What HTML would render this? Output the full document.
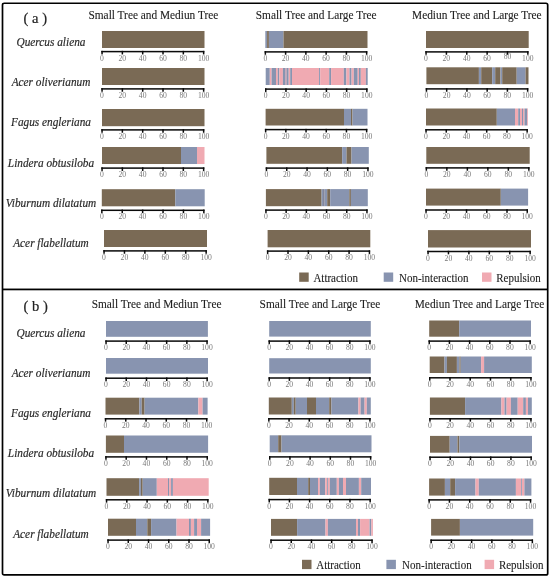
<!DOCTYPE html>
<html><head><meta charset="utf-8"><title>Figure</title>
<style>
html,body{margin:0;padding:0;background:#fff;}
body{width:550px;height:578px;overflow:hidden;}
svg{display:block;}
text{font-family:"Liberation Serif",serif;}
.lab{font-size:11.3px;font-style:italic;text-anchor:middle;fill:#2a2a2a;stroke:#2a2a2a;stroke-width:0.18px;}
.hd{font-size:11.35px;fill:#222;stroke:#222;stroke-width:0.1px;}
.tag{font-size:14.6px;fill:#222;stroke:#222;stroke-width:0.2px;}
.lg{font-size:11px;fill:#222;stroke:#222;stroke-width:0.1px;}
.tk text{font-size:7.6px;text-anchor:middle;fill:#777;}
</style></head><body>
<svg width="550" height="578" viewBox="0 0 550 578">
<rect width="550" height="578" fill="#fff"/>
<rect x="102" y="31" width="102.5" height="17" fill="#7a6a55"/>
<rect x="101.3" y="50.85" width="103" height="1.5" fill="#0a0a0a"/>
<rect x="101.3" y="50.85" width="1.5" height="3.6" fill="#0a0a0a"/>
<rect x="121.62" y="50.85" width="1.5" height="3.6" fill="#0a0a0a"/>
<rect x="141.94" y="50.85" width="1.5" height="3.6" fill="#0a0a0a"/>
<rect x="162.26" y="50.85" width="1.5" height="3.6" fill="#0a0a0a"/>
<rect x="182.58" y="50.85" width="1.5" height="3.6" fill="#0a0a0a"/>
<rect x="202.9" y="50.85" width="1.5" height="3.6" fill="#0a0a0a"/>
<rect x="265.3" y="31" width="1.8" height="17" fill="#8894b0"/>
<rect x="267.1" y="31" width="1.8" height="17" fill="#7a6a55"/>
<rect x="268.9" y="31" width="14.6" height="17" fill="#8894b0"/>
<rect x="283.5" y="31" width="84" height="17" fill="#7a6a55"/>
<rect x="264.6" y="51.15" width="102.7" height="1.5" fill="#0a0a0a"/>
<rect x="264.6" y="51.15" width="1.5" height="3.6" fill="#0a0a0a"/>
<rect x="284.86" y="51.15" width="1.5" height="3.6" fill="#0a0a0a"/>
<rect x="305.12" y="51.15" width="1.5" height="3.6" fill="#0a0a0a"/>
<rect x="325.38" y="51.15" width="1.5" height="3.6" fill="#0a0a0a"/>
<rect x="345.64" y="51.15" width="1.5" height="3.6" fill="#0a0a0a"/>
<rect x="365.9" y="51.15" width="1.5" height="3.6" fill="#0a0a0a"/>
<rect x="426" y="31" width="102.7" height="17" fill="#7a6a55"/>
<rect x="425.3" y="51.15" width="103.2" height="1.5" fill="#0a0a0a"/>
<rect x="425.3" y="51.15" width="1.5" height="3.6" fill="#0a0a0a"/>
<rect x="445.66" y="51.15" width="1.5" height="3.6" fill="#0a0a0a"/>
<rect x="466.02" y="51.15" width="1.5" height="3.6" fill="#0a0a0a"/>
<rect x="486.38" y="51.15" width="1.5" height="3.6" fill="#0a0a0a"/>
<rect x="506.74" y="51.15" width="1.5" height="3.6" fill="#0a0a0a"/>
<rect x="527.1" y="51.15" width="1.5" height="3.6" fill="#0a0a0a"/>
<rect x="102" y="68" width="102.5" height="17" fill="#7a6a55"/>
<rect x="101.3" y="88.15" width="103" height="1.5" fill="#0a0a0a"/>
<rect x="101.3" y="88.15" width="1.5" height="3.6" fill="#0a0a0a"/>
<rect x="121.62" y="88.15" width="1.5" height="3.6" fill="#0a0a0a"/>
<rect x="141.94" y="88.15" width="1.5" height="3.6" fill="#0a0a0a"/>
<rect x="162.26" y="88.15" width="1.5" height="3.6" fill="#0a0a0a"/>
<rect x="182.58" y="88.15" width="1.5" height="3.6" fill="#0a0a0a"/>
<rect x="202.9" y="88.15" width="1.5" height="3.6" fill="#0a0a0a"/>
<rect x="265.7" y="68" width="4.1" height="17" fill="#8894b0"/>
<rect x="269.8" y="68" width="1.8" height="17" fill="#f0aab2"/>
<rect x="271.6" y="68" width="4.4" height="17" fill="#8894b0"/>
<rect x="276" y="68" width="1.8" height="17" fill="#f0aab2"/>
<rect x="277.8" y="68" width="1.5" height="17" fill="#8894b0"/>
<rect x="279.3" y="68" width="3.6" height="17" fill="#f0aab2"/>
<rect x="282.9" y="68" width="2.2" height="17" fill="#8894b0"/>
<rect x="285.1" y="68" width="1.8" height="17" fill="#bda3b6"/>
<rect x="286.9" y="68" width="1.8" height="17" fill="#8894b0"/>
<rect x="288.7" y="68" width="1.5" height="17" fill="#f0aab2"/>
<rect x="290.2" y="68" width="1.8" height="17" fill="#8894b0"/>
<rect x="292" y="68" width="27.1" height="17" fill="#f0aab2"/>
<rect x="319.1" y="68" width="1.1" height="17" fill="#8894b0"/>
<rect x="320.2" y="68" width="9" height="17" fill="#f0aab2"/>
<rect x="329.2" y="68" width="1.9" height="17" fill="#8894b0"/>
<rect x="331.1" y="68" width="12.7" height="17" fill="#f0aab2"/>
<rect x="343.8" y="68" width="2.6" height="17" fill="#8894b0"/>
<rect x="346.4" y="68" width="3.1" height="17" fill="#f0aab2"/>
<rect x="349.5" y="68" width="2.1" height="17" fill="#8894b0"/>
<rect x="351.6" y="68" width="2.2" height="17" fill="#f0aab2"/>
<rect x="353.8" y="68" width="3.9" height="17" fill="#8894b0"/>
<rect x="357.7" y="68" width="1.3" height="17" fill="#f0aab2"/>
<rect x="359" y="68" width="1.8" height="17" fill="#8894b0"/>
<rect x="360.8" y="68" width="5.1" height="17" fill="#f0aab2"/>
<rect x="365.9" y="68" width="1.8" height="17" fill="#8894b0"/>
<rect x="265" y="88.35" width="102.5" height="1.5" fill="#0a0a0a"/>
<rect x="265" y="88.35" width="1.5" height="3.6" fill="#0a0a0a"/>
<rect x="285.22" y="88.35" width="1.5" height="3.6" fill="#0a0a0a"/>
<rect x="305.44" y="88.35" width="1.5" height="3.6" fill="#0a0a0a"/>
<rect x="325.66" y="88.35" width="1.5" height="3.6" fill="#0a0a0a"/>
<rect x="345.88" y="88.35" width="1.5" height="3.6" fill="#0a0a0a"/>
<rect x="366.1" y="88.35" width="1.5" height="3.6" fill="#0a0a0a"/>
<rect x="426.4" y="67.3" width="52.5" height="16.9" fill="#7a6a55"/>
<rect x="478.9" y="67.3" width="2.3" height="16.9" fill="#8894b0"/>
<rect x="481.2" y="67.3" width="11" height="16.9" fill="#7a6a55"/>
<rect x="492.2" y="67.3" width="3" height="16.9" fill="#8894b0"/>
<rect x="495.2" y="67.3" width="5.3" height="16.9" fill="#7a6a55"/>
<rect x="500.5" y="67.3" width="1.7" height="16.9" fill="#8894b0"/>
<rect x="502.2" y="67.3" width="14.5" height="16.9" fill="#7a6a55"/>
<rect x="516.7" y="67.3" width="8.9" height="16.9" fill="#8894b0"/>
<rect x="525.6" y="67.3" width="2.9" height="16.9" fill="#7a6a55"/>
<rect x="425.7" y="88.15" width="102.6" height="1.5" fill="#0a0a0a"/>
<rect x="425.7" y="88.15" width="1.5" height="3.6" fill="#0a0a0a"/>
<rect x="445.94" y="88.15" width="1.5" height="3.6" fill="#0a0a0a"/>
<rect x="466.18" y="88.15" width="1.5" height="3.6" fill="#0a0a0a"/>
<rect x="486.42" y="88.15" width="1.5" height="3.6" fill="#0a0a0a"/>
<rect x="506.66" y="88.15" width="1.5" height="3.6" fill="#0a0a0a"/>
<rect x="526.9" y="88.15" width="1.5" height="3.6" fill="#0a0a0a"/>
<rect x="102" y="109" width="102.5" height="17.2" fill="#7a6a55"/>
<rect x="101.3" y="129.15" width="103" height="1.5" fill="#0a0a0a"/>
<rect x="101.3" y="129.15" width="1.5" height="3.6" fill="#0a0a0a"/>
<rect x="121.62" y="129.15" width="1.5" height="3.6" fill="#0a0a0a"/>
<rect x="141.94" y="129.15" width="1.5" height="3.6" fill="#0a0a0a"/>
<rect x="162.26" y="129.15" width="1.5" height="3.6" fill="#0a0a0a"/>
<rect x="182.58" y="129.15" width="1.5" height="3.6" fill="#0a0a0a"/>
<rect x="202.9" y="129.15" width="1.5" height="3.6" fill="#0a0a0a"/>
<rect x="265.6" y="108.8" width="78.4" height="16.7" fill="#7a6a55"/>
<rect x="344" y="108.8" width="7" height="16.7" fill="#8894b0"/>
<rect x="351" y="108.8" width="1.5" height="16.7" fill="#7a6a55"/>
<rect x="352.5" y="108.8" width="15" height="16.7" fill="#8894b0"/>
<rect x="264.9" y="128.85" width="102.4" height="1.5" fill="#0a0a0a"/>
<rect x="264.9" y="128.85" width="1.5" height="3.6" fill="#0a0a0a"/>
<rect x="285.1" y="128.85" width="1.5" height="3.6" fill="#0a0a0a"/>
<rect x="305.3" y="128.85" width="1.5" height="3.6" fill="#0a0a0a"/>
<rect x="325.5" y="128.85" width="1.5" height="3.6" fill="#0a0a0a"/>
<rect x="345.7" y="128.85" width="1.5" height="3.6" fill="#0a0a0a"/>
<rect x="365.9" y="128.85" width="1.5" height="3.6" fill="#0a0a0a"/>
<rect x="426" y="108.5" width="70.8" height="17" fill="#7a6a55"/>
<rect x="496.8" y="108.5" width="18.2" height="17" fill="#8894b0"/>
<rect x="515" y="108.5" width="3.2" height="17" fill="#f0aab2"/>
<rect x="518.2" y="108.5" width="1.8" height="17" fill="#8894b0"/>
<rect x="520" y="108.5" width="2" height="17" fill="#f0aab2"/>
<rect x="522" y="108.5" width="1" height="17" fill="#8894b0"/>
<rect x="523" y="108.5" width="1.5" height="17" fill="#f0aab2"/>
<rect x="524.5" y="108.5" width="2.7" height="17" fill="#8894b0"/>
<rect x="527.2" y="108.5" width="0.8" height="17" fill="#f0aab2"/>
<rect x="425.3" y="129.05" width="102.5" height="1.5" fill="#0a0a0a"/>
<rect x="425.3" y="129.05" width="1.5" height="3.6" fill="#0a0a0a"/>
<rect x="445.52" y="129.05" width="1.5" height="3.6" fill="#0a0a0a"/>
<rect x="465.74" y="129.05" width="1.5" height="3.6" fill="#0a0a0a"/>
<rect x="485.96" y="129.05" width="1.5" height="3.6" fill="#0a0a0a"/>
<rect x="506.18" y="129.05" width="1.5" height="3.6" fill="#0a0a0a"/>
<rect x="526.4" y="129.05" width="1.5" height="3.6" fill="#0a0a0a"/>
<rect x="102" y="147" width="79" height="17" fill="#7a6a55"/>
<rect x="181" y="147" width="16" height="17" fill="#8894b0"/>
<rect x="197" y="147" width="7.5" height="17" fill="#f0aab2"/>
<rect x="101.3" y="167.35" width="103" height="1.5" fill="#0a0a0a"/>
<rect x="101.3" y="167.35" width="1.5" height="3.6" fill="#0a0a0a"/>
<rect x="121.62" y="167.35" width="1.5" height="3.6" fill="#0a0a0a"/>
<rect x="141.94" y="167.35" width="1.5" height="3.6" fill="#0a0a0a"/>
<rect x="162.26" y="167.35" width="1.5" height="3.6" fill="#0a0a0a"/>
<rect x="182.58" y="167.35" width="1.5" height="3.6" fill="#0a0a0a"/>
<rect x="202.9" y="167.35" width="1.5" height="3.6" fill="#0a0a0a"/>
<rect x="266.4" y="147" width="75.8" height="16.8" fill="#7a6a55"/>
<rect x="342.2" y="147" width="4.3" height="16.8" fill="#8894b0"/>
<rect x="346.5" y="147" width="5" height="16.8" fill="#7a6a55"/>
<rect x="351.5" y="147" width="17.3" height="16.8" fill="#8894b0"/>
<rect x="265.7" y="167.35" width="102.9" height="1.5" fill="#0a0a0a"/>
<rect x="265.7" y="167.35" width="1.5" height="3.6" fill="#0a0a0a"/>
<rect x="286" y="167.35" width="1.5" height="3.6" fill="#0a0a0a"/>
<rect x="306.3" y="167.35" width="1.5" height="3.6" fill="#0a0a0a"/>
<rect x="326.6" y="167.35" width="1.5" height="3.6" fill="#0a0a0a"/>
<rect x="346.9" y="167.35" width="1.5" height="3.6" fill="#0a0a0a"/>
<rect x="367.2" y="167.35" width="1.5" height="3.6" fill="#0a0a0a"/>
<rect x="426.3" y="147" width="103.4" height="16.8" fill="#7a6a55"/>
<rect x="425.6" y="167.15" width="103.9" height="1.5" fill="#0a0a0a"/>
<rect x="425.6" y="167.15" width="1.5" height="3.6" fill="#0a0a0a"/>
<rect x="446.1" y="167.15" width="1.5" height="3.6" fill="#0a0a0a"/>
<rect x="466.6" y="167.15" width="1.5" height="3.6" fill="#0a0a0a"/>
<rect x="487.1" y="167.15" width="1.5" height="3.6" fill="#0a0a0a"/>
<rect x="507.6" y="167.15" width="1.5" height="3.6" fill="#0a0a0a"/>
<rect x="528.1" y="167.15" width="1.5" height="3.6" fill="#0a0a0a"/>
<rect x="101.8" y="189.2" width="73.5" height="17.1" fill="#7a6a55"/>
<rect x="175.3" y="189.2" width="29.4" height="17.1" fill="#8894b0"/>
<rect x="101.1" y="209.55" width="103.4" height="1.5" fill="#0a0a0a"/>
<rect x="101.1" y="209.55" width="1.5" height="3.6" fill="#0a0a0a"/>
<rect x="121.5" y="209.55" width="1.5" height="3.6" fill="#0a0a0a"/>
<rect x="141.9" y="209.55" width="1.5" height="3.6" fill="#0a0a0a"/>
<rect x="162.3" y="209.55" width="1.5" height="3.6" fill="#0a0a0a"/>
<rect x="182.7" y="209.55" width="1.5" height="3.6" fill="#0a0a0a"/>
<rect x="203.1" y="209.55" width="1.5" height="3.6" fill="#0a0a0a"/>
<rect x="265.9" y="189.1" width="55.7" height="17.1" fill="#7a6a55"/>
<rect x="321.6" y="189.1" width="1.4" height="17.1" fill="#8894b0"/>
<rect x="323" y="189.1" width="1.7" height="17.1" fill="#84869a"/>
<rect x="324.7" y="189.1" width="2.5" height="17.1" fill="#8894b0"/>
<rect x="327.2" y="189.1" width="3" height="17.1" fill="#7a6a55"/>
<rect x="330.2" y="189.1" width="19.1" height="17.1" fill="#8894b0"/>
<rect x="349.3" y="189.1" width="1.6" height="17.1" fill="#7a6a55"/>
<rect x="350.9" y="189.1" width="16.9" height="17.1" fill="#8894b0"/>
<rect x="265.2" y="209.35" width="102.4" height="1.5" fill="#0a0a0a"/>
<rect x="265.2" y="209.35" width="1.5" height="3.6" fill="#0a0a0a"/>
<rect x="285.4" y="209.35" width="1.5" height="3.6" fill="#0a0a0a"/>
<rect x="305.6" y="209.35" width="1.5" height="3.6" fill="#0a0a0a"/>
<rect x="325.8" y="209.35" width="1.5" height="3.6" fill="#0a0a0a"/>
<rect x="346" y="209.35" width="1.5" height="3.6" fill="#0a0a0a"/>
<rect x="366.2" y="209.35" width="1.5" height="3.6" fill="#0a0a0a"/>
<rect x="426" y="188.6" width="74.8" height="17" fill="#7a6a55"/>
<rect x="500.8" y="188.6" width="27.3" height="17" fill="#8894b0"/>
<rect x="425.3" y="209.25" width="102.6" height="1.5" fill="#0a0a0a"/>
<rect x="425.3" y="209.25" width="1.5" height="3.6" fill="#0a0a0a"/>
<rect x="445.54" y="209.25" width="1.5" height="3.6" fill="#0a0a0a"/>
<rect x="465.78" y="209.25" width="1.5" height="3.6" fill="#0a0a0a"/>
<rect x="486.02" y="209.25" width="1.5" height="3.6" fill="#0a0a0a"/>
<rect x="506.26" y="209.25" width="1.5" height="3.6" fill="#0a0a0a"/>
<rect x="526.5" y="209.25" width="1.5" height="3.6" fill="#0a0a0a"/>
<rect x="104" y="230" width="103" height="17" fill="#7a6a55"/>
<rect x="103.3" y="250.15" width="103.5" height="1.5" fill="#0a0a0a"/>
<rect x="103.3" y="250.15" width="1.5" height="3.6" fill="#0a0a0a"/>
<rect x="123.72" y="250.15" width="1.5" height="3.6" fill="#0a0a0a"/>
<rect x="144.14" y="250.15" width="1.5" height="3.6" fill="#0a0a0a"/>
<rect x="164.56" y="250.15" width="1.5" height="3.6" fill="#0a0a0a"/>
<rect x="184.98" y="250.15" width="1.5" height="3.6" fill="#0a0a0a"/>
<rect x="205.4" y="250.15" width="1.5" height="3.6" fill="#0a0a0a"/>
<rect x="267.6" y="230" width="102.7" height="17.3" fill="#7a6a55"/>
<rect x="266.9" y="250.35" width="103.2" height="1.5" fill="#0a0a0a"/>
<rect x="266.9" y="250.35" width="1.5" height="3.6" fill="#0a0a0a"/>
<rect x="287.26" y="250.35" width="1.5" height="3.6" fill="#0a0a0a"/>
<rect x="307.62" y="250.35" width="1.5" height="3.6" fill="#0a0a0a"/>
<rect x="327.98" y="250.35" width="1.5" height="3.6" fill="#0a0a0a"/>
<rect x="348.34" y="250.35" width="1.5" height="3.6" fill="#0a0a0a"/>
<rect x="368.7" y="250.35" width="1.5" height="3.6" fill="#0a0a0a"/>
<rect x="428" y="230.1" width="103" height="17.4" fill="#7a6a55"/>
<rect x="427.3" y="250.75" width="103.5" height="1.5" fill="#0a0a0a"/>
<rect x="427.3" y="250.75" width="1.5" height="3.6" fill="#0a0a0a"/>
<rect x="447.72" y="250.75" width="1.5" height="3.6" fill="#0a0a0a"/>
<rect x="468.14" y="250.75" width="1.5" height="3.6" fill="#0a0a0a"/>
<rect x="488.56" y="250.75" width="1.5" height="3.6" fill="#0a0a0a"/>
<rect x="508.98" y="250.75" width="1.5" height="3.6" fill="#0a0a0a"/>
<rect x="529.4" y="250.75" width="1.5" height="3.6" fill="#0a0a0a"/>
<rect x="299.2" y="272.5" width="9.5" height="9.3" fill="#7a6a55"/>
<rect x="383.7" y="272.5" width="9.5" height="9.3" fill="#8894b0"/>
<rect x="482" y="272.5" width="9.5" height="9.3" fill="#f0aab2"/>
<rect x="106" y="321" width="101.9" height="15.8" fill="#8894b0"/>
<rect x="105.3" y="340.35" width="102.4" height="1.5" fill="#0a0a0a"/>
<rect x="105.3" y="340.35" width="1.5" height="3.6" fill="#0a0a0a"/>
<rect x="125.5" y="340.35" width="1.5" height="3.6" fill="#0a0a0a"/>
<rect x="145.7" y="340.35" width="1.5" height="3.6" fill="#0a0a0a"/>
<rect x="165.9" y="340.35" width="1.5" height="3.6" fill="#0a0a0a"/>
<rect x="186.1" y="340.35" width="1.5" height="3.6" fill="#0a0a0a"/>
<rect x="206.3" y="340.35" width="1.5" height="3.6" fill="#0a0a0a"/>
<rect x="269.2" y="321" width="101.6" height="15.6" fill="#8894b0"/>
<rect x="268.5" y="340.35" width="102.1" height="1.5" fill="#0a0a0a"/>
<rect x="268.5" y="340.35" width="1.5" height="3.6" fill="#0a0a0a"/>
<rect x="288.64" y="340.35" width="1.5" height="3.6" fill="#0a0a0a"/>
<rect x="308.78" y="340.35" width="1.5" height="3.6" fill="#0a0a0a"/>
<rect x="328.92" y="340.35" width="1.5" height="3.6" fill="#0a0a0a"/>
<rect x="349.06" y="340.35" width="1.5" height="3.6" fill="#0a0a0a"/>
<rect x="369.2" y="340.35" width="1.5" height="3.6" fill="#0a0a0a"/>
<rect x="429.2" y="320.5" width="30" height="16.2" fill="#7a6a55"/>
<rect x="459.2" y="320.5" width="71.8" height="16.2" fill="#8894b0"/>
<rect x="428.5" y="340.35" width="102.3" height="1.5" fill="#0a0a0a"/>
<rect x="428.5" y="340.35" width="1.5" height="3.6" fill="#0a0a0a"/>
<rect x="448.68" y="340.35" width="1.5" height="3.6" fill="#0a0a0a"/>
<rect x="468.86" y="340.35" width="1.5" height="3.6" fill="#0a0a0a"/>
<rect x="489.04" y="340.35" width="1.5" height="3.6" fill="#0a0a0a"/>
<rect x="509.22" y="340.35" width="1.5" height="3.6" fill="#0a0a0a"/>
<rect x="529.4" y="340.35" width="1.5" height="3.6" fill="#0a0a0a"/>
<rect x="106" y="358" width="102" height="15.7" fill="#8894b0"/>
<rect x="105.3" y="377.45" width="102.5" height="1.5" fill="#0a0a0a"/>
<rect x="105.3" y="377.45" width="1.5" height="3.6" fill="#0a0a0a"/>
<rect x="125.52" y="377.45" width="1.5" height="3.6" fill="#0a0a0a"/>
<rect x="145.74" y="377.45" width="1.5" height="3.6" fill="#0a0a0a"/>
<rect x="165.96" y="377.45" width="1.5" height="3.6" fill="#0a0a0a"/>
<rect x="186.18" y="377.45" width="1.5" height="3.6" fill="#0a0a0a"/>
<rect x="206.4" y="377.45" width="1.5" height="3.6" fill="#0a0a0a"/>
<rect x="269.2" y="358.2" width="101.6" height="15.3" fill="#8894b0"/>
<rect x="268.5" y="377.25" width="102.1" height="1.5" fill="#0a0a0a"/>
<rect x="268.5" y="377.25" width="1.5" height="3.6" fill="#0a0a0a"/>
<rect x="288.64" y="377.25" width="1.5" height="3.6" fill="#0a0a0a"/>
<rect x="308.78" y="377.25" width="1.5" height="3.6" fill="#0a0a0a"/>
<rect x="328.92" y="377.25" width="1.5" height="3.6" fill="#0a0a0a"/>
<rect x="349.06" y="377.25" width="1.5" height="3.6" fill="#0a0a0a"/>
<rect x="369.2" y="377.25" width="1.5" height="3.6" fill="#0a0a0a"/>
<rect x="429.7" y="356.5" width="14.8" height="16.5" fill="#7a6a55"/>
<rect x="444.5" y="356.5" width="2.4" height="16.5" fill="#8894b0"/>
<rect x="446.9" y="356.5" width="10" height="16.5" fill="#7a6a55"/>
<rect x="456.9" y="356.5" width="2.6" height="16.5" fill="#8894b0"/>
<rect x="459.5" y="356.5" width="1.2" height="16.5" fill="#7a6a55"/>
<rect x="460.7" y="356.5" width="20.4" height="16.5" fill="#8894b0"/>
<rect x="481.1" y="356.5" width="3" height="16.5" fill="#f0aab2"/>
<rect x="484.1" y="356.5" width="47.7" height="16.5" fill="#8894b0"/>
<rect x="429" y="377.05" width="102.6" height="1.5" fill="#0a0a0a"/>
<rect x="429" y="377.05" width="1.5" height="3.6" fill="#0a0a0a"/>
<rect x="449.24" y="377.05" width="1.5" height="3.6" fill="#0a0a0a"/>
<rect x="469.48" y="377.05" width="1.5" height="3.6" fill="#0a0a0a"/>
<rect x="489.72" y="377.05" width="1.5" height="3.6" fill="#0a0a0a"/>
<rect x="509.96" y="377.05" width="1.5" height="3.6" fill="#0a0a0a"/>
<rect x="530.2" y="377.05" width="1.5" height="3.6" fill="#0a0a0a"/>
<rect x="105.5" y="397.7" width="33.9" height="16.9" fill="#7a6a55"/>
<rect x="139.4" y="397.7" width="2.3" height="16.9" fill="#8894b0"/>
<rect x="141.7" y="397.7" width="2.9" height="16.9" fill="#7a6a55"/>
<rect x="144.6" y="397.7" width="53.7" height="16.9" fill="#8894b0"/>
<rect x="198.3" y="397.7" width="4.3" height="16.9" fill="#f0aab2"/>
<rect x="202.6" y="397.7" width="5" height="16.9" fill="#8894b0"/>
<rect x="104.8" y="418.05" width="102.6" height="1.5" fill="#0a0a0a"/>
<rect x="104.8" y="418.05" width="1.5" height="3.6" fill="#0a0a0a"/>
<rect x="125.04" y="418.05" width="1.5" height="3.6" fill="#0a0a0a"/>
<rect x="145.28" y="418.05" width="1.5" height="3.6" fill="#0a0a0a"/>
<rect x="165.52" y="418.05" width="1.5" height="3.6" fill="#0a0a0a"/>
<rect x="185.76" y="418.05" width="1.5" height="3.6" fill="#0a0a0a"/>
<rect x="206" y="418.05" width="1.5" height="3.6" fill="#0a0a0a"/>
<rect x="268.8" y="397.5" width="23" height="17" fill="#7a6a55"/>
<rect x="291.8" y="397.5" width="2" height="17" fill="#8894b0"/>
<rect x="293.8" y="397.5" width="1.9" height="17" fill="#7a6a55"/>
<rect x="295.7" y="397.5" width="11.3" height="17" fill="#8894b0"/>
<rect x="307" y="397.5" width="9" height="17" fill="#7a6a55"/>
<rect x="316" y="397.5" width="13.2" height="17" fill="#8894b0"/>
<rect x="329.2" y="397.5" width="2.2" height="17" fill="#7a6a55"/>
<rect x="331.4" y="397.5" width="27" height="17" fill="#8894b0"/>
<rect x="358.4" y="397.5" width="2.2" height="17" fill="#f0aab2"/>
<rect x="360.6" y="397.5" width="4" height="17" fill="#8894b0"/>
<rect x="364.6" y="397.5" width="2.2" height="17" fill="#f0aab2"/>
<rect x="366.8" y="397.5" width="4" height="17" fill="#8894b0"/>
<rect x="268.1" y="418.05" width="102.5" height="1.5" fill="#0a0a0a"/>
<rect x="268.1" y="418.05" width="1.5" height="3.6" fill="#0a0a0a"/>
<rect x="288.32" y="418.05" width="1.5" height="3.6" fill="#0a0a0a"/>
<rect x="308.54" y="418.05" width="1.5" height="3.6" fill="#0a0a0a"/>
<rect x="328.76" y="418.05" width="1.5" height="3.6" fill="#0a0a0a"/>
<rect x="348.98" y="418.05" width="1.5" height="3.6" fill="#0a0a0a"/>
<rect x="369.2" y="418.05" width="1.5" height="3.6" fill="#0a0a0a"/>
<rect x="429.9" y="397.5" width="35.2" height="17.3" fill="#7a6a55"/>
<rect x="465.1" y="397.5" width="36.3" height="17.3" fill="#8894b0"/>
<rect x="501.4" y="397.5" width="3.1" height="17.3" fill="#f0aab2"/>
<rect x="504.5" y="397.5" width="2.1" height="17.3" fill="#8894b0"/>
<rect x="506.6" y="397.5" width="4.3" height="17.3" fill="#f0aab2"/>
<rect x="510.9" y="397.5" width="6.8" height="17.3" fill="#8894b0"/>
<rect x="517.7" y="397.5" width="5.5" height="17.3" fill="#f0aab2"/>
<rect x="523.2" y="397.5" width="2.7" height="17.3" fill="#8894b0"/>
<rect x="525.9" y="397.5" width="2.1" height="17.3" fill="#f0aab2"/>
<rect x="528" y="397.5" width="3.8" height="17.3" fill="#8894b0"/>
<rect x="429.2" y="418.05" width="102.4" height="1.5" fill="#0a0a0a"/>
<rect x="429.2" y="418.05" width="1.5" height="3.6" fill="#0a0a0a"/>
<rect x="449.4" y="418.05" width="1.5" height="3.6" fill="#0a0a0a"/>
<rect x="469.6" y="418.05" width="1.5" height="3.6" fill="#0a0a0a"/>
<rect x="489.8" y="418.05" width="1.5" height="3.6" fill="#0a0a0a"/>
<rect x="510" y="418.05" width="1.5" height="3.6" fill="#0a0a0a"/>
<rect x="530.2" y="418.05" width="1.5" height="3.6" fill="#0a0a0a"/>
<rect x="105.9" y="435.5" width="18.1" height="17.3" fill="#7a6a55"/>
<rect x="124" y="435.5" width="84.1" height="17.3" fill="#8894b0"/>
<rect x="105.2" y="456.15" width="102.7" height="1.5" fill="#0a0a0a"/>
<rect x="105.2" y="456.15" width="1.5" height="3.6" fill="#0a0a0a"/>
<rect x="125.46" y="456.15" width="1.5" height="3.6" fill="#0a0a0a"/>
<rect x="145.72" y="456.15" width="1.5" height="3.6" fill="#0a0a0a"/>
<rect x="165.98" y="456.15" width="1.5" height="3.6" fill="#0a0a0a"/>
<rect x="186.24" y="456.15" width="1.5" height="3.6" fill="#0a0a0a"/>
<rect x="206.5" y="456.15" width="1.5" height="3.6" fill="#0a0a0a"/>
<rect x="269.7" y="435.3" width="8.5" height="17" fill="#8894b0"/>
<rect x="278.2" y="435.3" width="3.3" height="17" fill="#7a6a55"/>
<rect x="281.5" y="435.3" width="90" height="17" fill="#8894b0"/>
<rect x="269" y="456.15" width="102.3" height="1.5" fill="#0a0a0a"/>
<rect x="269" y="456.15" width="1.5" height="3.6" fill="#0a0a0a"/>
<rect x="289.18" y="456.15" width="1.5" height="3.6" fill="#0a0a0a"/>
<rect x="309.36" y="456.15" width="1.5" height="3.6" fill="#0a0a0a"/>
<rect x="329.54" y="456.15" width="1.5" height="3.6" fill="#0a0a0a"/>
<rect x="349.72" y="456.15" width="1.5" height="3.6" fill="#0a0a0a"/>
<rect x="369.9" y="456.15" width="1.5" height="3.6" fill="#0a0a0a"/>
<rect x="430" y="435.9" width="19.7" height="16.8" fill="#7a6a55"/>
<rect x="449.7" y="435.9" width="7.8" height="16.8" fill="#8894b0"/>
<rect x="457.5" y="435.9" width="1.8" height="16.8" fill="#7a6a55"/>
<rect x="459.3" y="435.9" width="72.7" height="16.8" fill="#8894b0"/>
<rect x="429.3" y="456.45" width="102.5" height="1.5" fill="#0a0a0a"/>
<rect x="429.3" y="456.45" width="1.5" height="3.6" fill="#0a0a0a"/>
<rect x="449.52" y="456.45" width="1.5" height="3.6" fill="#0a0a0a"/>
<rect x="469.74" y="456.45" width="1.5" height="3.6" fill="#0a0a0a"/>
<rect x="489.96" y="456.45" width="1.5" height="3.6" fill="#0a0a0a"/>
<rect x="510.18" y="456.45" width="1.5" height="3.6" fill="#0a0a0a"/>
<rect x="530.4" y="456.45" width="1.5" height="3.6" fill="#0a0a0a"/>
<rect x="106.5" y="478.2" width="32.6" height="17.6" fill="#7a6a55"/>
<rect x="139.1" y="478.2" width="1.8" height="17.6" fill="#8894b0"/>
<rect x="140.9" y="478.2" width="1.8" height="17.6" fill="#7a6a55"/>
<rect x="142.7" y="478.2" width="14.1" height="17.6" fill="#8894b0"/>
<rect x="156.8" y="478.2" width="11.2" height="17.6" fill="#f0aab2"/>
<rect x="168" y="478.2" width="1.1" height="17.6" fill="#8894b0"/>
<rect x="169.1" y="478.2" width="2" height="17.6" fill="#f0aab2"/>
<rect x="171.1" y="478.2" width="1.8" height="17.6" fill="#8894b0"/>
<rect x="172.9" y="478.2" width="35.8" height="17.6" fill="#f0aab2"/>
<rect x="105.8" y="499.05" width="102.7" height="1.5" fill="#0a0a0a"/>
<rect x="105.8" y="499.05" width="1.5" height="3.6" fill="#0a0a0a"/>
<rect x="126.06" y="499.05" width="1.5" height="3.6" fill="#0a0a0a"/>
<rect x="146.32" y="499.05" width="1.5" height="3.6" fill="#0a0a0a"/>
<rect x="166.58" y="499.05" width="1.5" height="3.6" fill="#0a0a0a"/>
<rect x="186.84" y="499.05" width="1.5" height="3.6" fill="#0a0a0a"/>
<rect x="207.1" y="499.05" width="1.5" height="3.6" fill="#0a0a0a"/>
<rect x="269.2" y="477.8" width="27.8" height="17.2" fill="#7a6a55"/>
<rect x="297" y="477.8" width="11.2" height="17.2" fill="#8894b0"/>
<rect x="308.2" y="477.8" width="1.8" height="17.2" fill="#7a6a55"/>
<rect x="310" y="477.8" width="8" height="17.2" fill="#8894b0"/>
<rect x="318" y="477.8" width="1.8" height="17.2" fill="#f0aab2"/>
<rect x="319.8" y="477.8" width="5.4" height="17.2" fill="#8894b0"/>
<rect x="325.2" y="477.8" width="2" height="17.2" fill="#f0aab2"/>
<rect x="327.2" y="477.8" width="0.8" height="17.2" fill="#8894b0"/>
<rect x="328" y="477.8" width="1.8" height="17.2" fill="#f0aab2"/>
<rect x="329.8" y="477.8" width="7" height="17.2" fill="#8894b0"/>
<rect x="336.8" y="477.8" width="2.1" height="17.2" fill="#f0aab2"/>
<rect x="338.9" y="477.8" width="4.1" height="17.2" fill="#8894b0"/>
<rect x="343" y="477.8" width="3" height="17.2" fill="#f0aab2"/>
<rect x="346" y="477.8" width="12.9" height="17.2" fill="#8894b0"/>
<rect x="358.9" y="477.8" width="2.3" height="17.2" fill="#f0aab2"/>
<rect x="361.2" y="477.8" width="9.8" height="17.2" fill="#8894b0"/>
<rect x="268.5" y="498.85" width="102.3" height="1.5" fill="#0a0a0a"/>
<rect x="268.5" y="498.85" width="1.5" height="3.6" fill="#0a0a0a"/>
<rect x="288.68" y="498.85" width="1.5" height="3.6" fill="#0a0a0a"/>
<rect x="308.86" y="498.85" width="1.5" height="3.6" fill="#0a0a0a"/>
<rect x="329.04" y="498.85" width="1.5" height="3.6" fill="#0a0a0a"/>
<rect x="349.22" y="498.85" width="1.5" height="3.6" fill="#0a0a0a"/>
<rect x="369.4" y="498.85" width="1.5" height="3.6" fill="#0a0a0a"/>
<rect x="429.1" y="478.5" width="15.8" height="17.1" fill="#7a6a55"/>
<rect x="444.9" y="478.5" width="5.3" height="17.1" fill="#8894b0"/>
<rect x="450.2" y="478.5" width="4.9" height="17.1" fill="#7a6a55"/>
<rect x="455.1" y="478.5" width="20.4" height="17.1" fill="#8894b0"/>
<rect x="475.5" y="478.5" width="3.3" height="17.1" fill="#f0aab2"/>
<rect x="478.8" y="478.5" width="37.1" height="17.1" fill="#8894b0"/>
<rect x="515.9" y="478.5" width="5.3" height="17.1" fill="#f0aab2"/>
<rect x="521.2" y="478.5" width="0.8" height="17.1" fill="#8894b0"/>
<rect x="522" y="478.5" width="2.4" height="17.1" fill="#f0aab2"/>
<rect x="524.4" y="478.5" width="7" height="17.1" fill="#8894b0"/>
<rect x="428.4" y="499.15" width="102.8" height="1.5" fill="#0a0a0a"/>
<rect x="428.4" y="499.15" width="1.5" height="3.6" fill="#0a0a0a"/>
<rect x="448.68" y="499.15" width="1.5" height="3.6" fill="#0a0a0a"/>
<rect x="468.96" y="499.15" width="1.5" height="3.6" fill="#0a0a0a"/>
<rect x="489.24" y="499.15" width="1.5" height="3.6" fill="#0a0a0a"/>
<rect x="509.52" y="499.15" width="1.5" height="3.6" fill="#0a0a0a"/>
<rect x="529.8" y="499.15" width="1.5" height="3.6" fill="#0a0a0a"/>
<rect x="108" y="518.7" width="28" height="17.1" fill="#7a6a55"/>
<rect x="136" y="518.7" width="11.3" height="17.1" fill="#8894b0"/>
<rect x="147.3" y="518.7" width="3.8" height="17.1" fill="#7a6a55"/>
<rect x="151.1" y="518.7" width="25.4" height="17.1" fill="#8894b0"/>
<rect x="176.5" y="518.7" width="12.5" height="17.1" fill="#f0aab2"/>
<rect x="189" y="518.7" width="1.9" height="17.1" fill="#8894b0"/>
<rect x="190.9" y="518.7" width="3.2" height="17.1" fill="#f0aab2"/>
<rect x="194.1" y="518.7" width="2.9" height="17.1" fill="#8894b0"/>
<rect x="197" y="518.7" width="4.1" height="17.1" fill="#f0aab2"/>
<rect x="201.1" y="518.7" width="9" height="17.1" fill="#8894b0"/>
<rect x="107.3" y="539.35" width="102.6" height="1.5" fill="#0a0a0a"/>
<rect x="107.3" y="539.35" width="1.5" height="3.6" fill="#0a0a0a"/>
<rect x="127.54" y="539.35" width="1.5" height="3.6" fill="#0a0a0a"/>
<rect x="147.78" y="539.35" width="1.5" height="3.6" fill="#0a0a0a"/>
<rect x="168.02" y="539.35" width="1.5" height="3.6" fill="#0a0a0a"/>
<rect x="188.26" y="539.35" width="1.5" height="3.6" fill="#0a0a0a"/>
<rect x="208.5" y="539.35" width="1.5" height="3.6" fill="#0a0a0a"/>
<rect x="271" y="518.9" width="26.1" height="16.9" fill="#7a6a55"/>
<rect x="297.1" y="518.9" width="28.4" height="16.9" fill="#8894b0"/>
<rect x="325.5" y="518.9" width="2.4" height="16.9" fill="#f0aab2"/>
<rect x="327.9" y="518.9" width="28.1" height="16.9" fill="#8894b0"/>
<rect x="356" y="518.9" width="2" height="16.9" fill="#f0aab2"/>
<rect x="358" y="518.9" width="2.1" height="16.9" fill="#8894b0"/>
<rect x="360.1" y="518.9" width="9.5" height="16.9" fill="#f0aab2"/>
<rect x="369.6" y="518.9" width="1.7" height="16.9" fill="#8894b0"/>
<rect x="371.3" y="518.9" width="1.6" height="16.9" fill="#f0aab2"/>
<rect x="270.3" y="539.45" width="102.4" height="1.5" fill="#0a0a0a"/>
<rect x="270.3" y="539.45" width="1.5" height="3.6" fill="#0a0a0a"/>
<rect x="290.5" y="539.45" width="1.5" height="3.6" fill="#0a0a0a"/>
<rect x="310.7" y="539.45" width="1.5" height="3.6" fill="#0a0a0a"/>
<rect x="330.9" y="539.45" width="1.5" height="3.6" fill="#0a0a0a"/>
<rect x="351.1" y="539.45" width="1.5" height="3.6" fill="#0a0a0a"/>
<rect x="371.3" y="539.45" width="1.5" height="3.6" fill="#0a0a0a"/>
<rect x="431.1" y="518.9" width="28.8" height="16.7" fill="#7a6a55"/>
<rect x="459.9" y="518.9" width="73.3" height="16.7" fill="#8894b0"/>
<rect x="430.4" y="539.45" width="102.6" height="1.5" fill="#0a0a0a"/>
<rect x="430.4" y="539.45" width="1.5" height="3.6" fill="#0a0a0a"/>
<rect x="450.64" y="539.45" width="1.5" height="3.6" fill="#0a0a0a"/>
<rect x="470.88" y="539.45" width="1.5" height="3.6" fill="#0a0a0a"/>
<rect x="491.12" y="539.45" width="1.5" height="3.6" fill="#0a0a0a"/>
<rect x="511.36" y="539.45" width="1.5" height="3.6" fill="#0a0a0a"/>
<rect x="531.6" y="539.45" width="1.5" height="3.6" fill="#0a0a0a"/>
<rect x="302" y="559.8" width="9.5" height="9.3" fill="#7a6a55"/>
<rect x="386.4" y="559.8" width="9.5" height="9.3" fill="#8894b0"/>
<rect x="484.6" y="559.8" width="9.5" height="9.3" fill="#f0aab2"/>
<g class="tk"><text x="102" y="60.6">0</text><text x="122.32" y="60.6">20</text><text x="142.64" y="60.6">40</text><text x="162.96" y="60.6">60</text><text x="183.28" y="60.6">80</text><text x="203.6" y="60.6">100</text><text x="265.3" y="60.9">0</text><text x="285.56" y="60.9">20</text><text x="305.82" y="60.9">40</text><text x="326.08" y="60.9">60</text><text x="346.34" y="60.9">80</text><text x="366.6" y="60.9">100</text><text x="426" y="60.9">0</text><text x="446.36" y="60.9">20</text><text x="466.72" y="60.9">40</text><text x="487.08" y="60.9">60</text><text x="507.44" y="58.9">80</text><text x="527.8" y="60.9">100</text><text x="102" y="97.9">0</text><text x="122.32" y="97.9">20</text><text x="142.64" y="97.9">40</text><text x="162.96" y="97.9">60</text><text x="183.28" y="97.9">80</text><text x="203.6" y="97.9">100</text><text x="265.7" y="98.1">0</text><text x="285.92" y="98.1">20</text><text x="306.14" y="98.1">40</text><text x="326.36" y="98.1">60</text><text x="346.58" y="98.1">80</text><text x="366.8" y="98.1">100</text><text x="426.4" y="97.9">0</text><text x="446.64" y="97.9">20</text><text x="466.88" y="97.9">40</text><text x="487.12" y="97.9">60</text><text x="507.36" y="97.9">80</text><text x="527.6" y="97.9">100</text><text x="102" y="138.9">0</text><text x="122.32" y="138.9">20</text><text x="142.64" y="138.9">40</text><text x="162.96" y="138.9">60</text><text x="183.28" y="138.9">80</text><text x="203.6" y="138.9">100</text><text x="265.6" y="138.6">0</text><text x="285.8" y="138.6">20</text><text x="306" y="138.6">40</text><text x="326.2" y="138.6">60</text><text x="346.4" y="138.6">80</text><text x="366.6" y="138.6">100</text><text x="426" y="138.8">0</text><text x="446.22" y="138.8">20</text><text x="466.44" y="138.8">40</text><text x="486.66" y="138.8">60</text><text x="506.88" y="138.8">80</text><text x="527.1" y="138.8">100</text><text x="102" y="177.1">0</text><text x="122.32" y="177.1">20</text><text x="142.64" y="177.1">40</text><text x="162.96" y="177.1">60</text><text x="183.28" y="177.1">80</text><text x="203.6" y="177.1">100</text><text x="266.4" y="177.1">0</text><text x="286.7" y="177.1">20</text><text x="307" y="177.1">40</text><text x="327.3" y="177.1">60</text><text x="347.6" y="177.1">80</text><text x="367.9" y="177.1">100</text><text x="426.3" y="176.9">0</text><text x="446.8" y="176.9">20</text><text x="467.3" y="176.9">40</text><text x="487.8" y="176.9">60</text><text x="508.3" y="176.9">80</text><text x="528.8" y="176.9">100</text><text x="101.8" y="219.3">0</text><text x="122.2" y="219.3">20</text><text x="142.6" y="219.3">40</text><text x="163" y="219.3">60</text><text x="183.4" y="219.3">80</text><text x="203.8" y="219.3">100</text><text x="265.9" y="219.1">0</text><text x="286.1" y="219.1">20</text><text x="306.3" y="219.1">40</text><text x="326.5" y="219.1">60</text><text x="346.7" y="219.1">80</text><text x="366.9" y="219.1">100</text><text x="426" y="219">0</text><text x="446.24" y="219">20</text><text x="466.48" y="219">40</text><text x="486.72" y="219">60</text><text x="506.96" y="219">80</text><text x="527.2" y="219">100</text><text x="104" y="259.9">0</text><text x="124.42" y="259.9">20</text><text x="144.84" y="259.9">40</text><text x="165.26" y="259.9">60</text><text x="185.68" y="259.9">80</text><text x="206.1" y="259.9">100</text><text x="267.6" y="260.1">0</text><text x="287.96" y="260.1">20</text><text x="308.32" y="260.1">40</text><text x="328.68" y="260.1">60</text><text x="349.04" y="260.1">80</text><text x="369.4" y="260.1">100</text><text x="428" y="260.5">0</text><text x="448.42" y="260.5">20</text><text x="468.84" y="260.5">40</text><text x="489.26" y="260.5">60</text><text x="509.68" y="260.5">80</text><text x="530.1" y="260.5">100</text><text x="106" y="350.1">0</text><text x="126.2" y="350.1">20</text><text x="146.4" y="350.1">40</text><text x="166.6" y="350.1">60</text><text x="186.8" y="350.1">80</text><text x="207" y="350.1">100</text><text x="269.2" y="350.1">0</text><text x="289.34" y="350.1">20</text><text x="309.48" y="350.1">40</text><text x="329.62" y="350.1">60</text><text x="349.76" y="350.1">80</text><text x="369.9" y="350.1">100</text><text x="429.2" y="350.1">0</text><text x="449.38" y="350.1">20</text><text x="469.56" y="350.1">40</text><text x="489.74" y="350.1">60</text><text x="509.92" y="350.1">80</text><text x="530.1" y="350.1">100</text><text x="106" y="387.2">0</text><text x="126.22" y="387.2">20</text><text x="146.44" y="387.2">40</text><text x="166.66" y="387.2">60</text><text x="186.88" y="387.2">80</text><text x="207.1" y="387.2">100</text><text x="269.2" y="387">0</text><text x="289.34" y="387">20</text><text x="309.48" y="387">40</text><text x="329.62" y="387">60</text><text x="349.76" y="387">80</text><text x="369.9" y="387">100</text><text x="429.7" y="386.8">0</text><text x="449.94" y="386.8">20</text><text x="470.18" y="386.8">40</text><text x="490.42" y="386.8">60</text><text x="510.66" y="386.8">80</text><text x="530.9" y="386.8">100</text><text x="105.5" y="427.8">0</text><text x="125.74" y="427.8">20</text><text x="145.98" y="427.8">40</text><text x="166.22" y="427.8">60</text><text x="186.46" y="427.8">80</text><text x="206.7" y="427.8">100</text><text x="268.8" y="427.8">0</text><text x="289.02" y="427.8">20</text><text x="309.24" y="427.8">40</text><text x="329.46" y="427.8">60</text><text x="349.68" y="427.8">80</text><text x="369.9" y="427.8">100</text><text x="429.9" y="427.8">0</text><text x="450.1" y="427.8">20</text><text x="470.3" y="427.8">40</text><text x="490.5" y="427.8">60</text><text x="510.7" y="427.8">80</text><text x="530.9" y="427.8">100</text><text x="105.9" y="465.9">0</text><text x="126.16" y="465.9">20</text><text x="146.42" y="465.9">40</text><text x="166.68" y="465.9">60</text><text x="186.94" y="465.9">80</text><text x="207.2" y="465.9">100</text><text x="269.7" y="465.9">0</text><text x="289.88" y="465.9">20</text><text x="310.06" y="465.9">40</text><text x="330.24" y="465.9">60</text><text x="350.42" y="465.9">80</text><text x="370.6" y="465.9">100</text><text x="430" y="466.2">0</text><text x="450.22" y="466.2">20</text><text x="470.44" y="466.2">40</text><text x="490.66" y="466.2">60</text><text x="510.88" y="466.2">80</text><text x="531.1" y="466.2">100</text><text x="106.5" y="508.8">0</text><text x="126.76" y="508.8">20</text><text x="147.02" y="508.8">40</text><text x="167.28" y="508.8">60</text><text x="187.54" y="508.8">80</text><text x="207.8" y="508.8">100</text><text x="269.2" y="508.6">0</text><text x="289.38" y="508.6">20</text><text x="309.56" y="508.6">40</text><text x="329.74" y="508.6">60</text><text x="349.92" y="508.6">80</text><text x="370.1" y="508.6">100</text><text x="429.1" y="508.9">0</text><text x="449.38" y="508.9">20</text><text x="469.66" y="508.9">40</text><text x="489.94" y="508.9">60</text><text x="510.22" y="508.9">80</text><text x="530.5" y="508.9">100</text><text x="108" y="549.1">0</text><text x="128.24" y="549.1">20</text><text x="148.48" y="549.1">40</text><text x="168.72" y="549.1">60</text><text x="188.96" y="549.1">80</text><text x="209.2" y="549.1">100</text><text x="271" y="549.2">0</text><text x="291.2" y="549.2">20</text><text x="311.4" y="549.2">40</text><text x="331.6" y="549.2">60</text><text x="351.8" y="549.2">80</text><text x="372" y="549.2">100</text><text x="431.1" y="549.2">0</text><text x="451.34" y="549.2">20</text><text x="471.58" y="549.2">40</text><text x="491.82" y="549.2">60</text><text x="512.06" y="549.2">80</text><text x="532.3" y="549.2">100</text></g>
<text class="lab" x="51.0" y="45.7" transform="matrix(1 0 0 1.08 0 -3.66)">Quercus aliena</text>
<text class="lab" x="51.0" y="85.8" transform="matrix(1 0 0 1.08 0 -6.86)">Acer oliverianum</text>
<text class="lab" x="51.0" y="126.2" transform="matrix(1 0 0 1.08 0 -10.1)">Fagus engleriana</text>
<text class="lab" x="51.0" y="167.2" transform="matrix(1 0 0 1.08 0 -13.38)">Lindera obtusiloba</text>
<text class="lab" x="51.0" y="206.75" transform="matrix(1 0 0 1.08 0 -16.54)">Viburnum dilatatum</text>
<text class="lab" x="51.0" y="247.5" transform="matrix(1 0 0 1.08 0 -19.8)">Acer flabellatum</text>
<text class="hd" x="88.5" y="19" transform="matrix(1 0 0 1.05 0 -0.95)">Small Tree and Mediun Tree</text>
<text class="hd" x="255.8" y="19" transform="matrix(1 0 0 1.05 0 -0.95)">Small Tree and Large Tree</text>
<text class="hd" x="412.1" y="19" transform="matrix(1 0 0 1.05 0 -0.95)">Mediun Tree and Large Tree</text>
<text class="tag" x="23.6" y="22.6">( a )</text>
<text class="lg" x="313.4" y="282.3" transform="matrix(1 0 0 1.1 0 -28.23)">Attraction</text>
<text class="lg" x="399" y="282.3" transform="matrix(1 0 0 1.1 0 -28.23)">Non-interaction</text>
<text class="lg" x="496.2" y="282.3" transform="matrix(1 0 0 1.1 0 -28.23)">Repulsion</text>
<text class="lab" x="51.0" y="336.5" transform="matrix(1 0 0 1.08 0 -26.92)">Quercus aliena</text>
<text class="lab" x="51.0" y="376.9" transform="matrix(1 0 0 1.08 0 -30.15)">Acer oliverianum</text>
<text class="lab" x="51.0" y="416.9" transform="matrix(1 0 0 1.08 0 -33.35)">Fagus engleriana</text>
<text class="lab" x="51.0" y="457.4" transform="matrix(1 0 0 1.08 0 -36.59)">Lindera obtusiloba</text>
<text class="lab" x="51.0" y="497.2" transform="matrix(1 0 0 1.08 0 -39.78)">Viburnum dilatatum</text>
<text class="lab" x="51.0" y="538.2" transform="matrix(1 0 0 1.08 0 -43.06)">Acer flabellatum</text>
<text class="hd" x="91.7" y="308.2" transform="matrix(1 0 0 1.05 0 -15.41)">Small Tree and Mediun Tree</text>
<text class="hd" x="259.6" y="308.2" transform="matrix(1 0 0 1.05 0 -15.41)">Small Tree and Large Tree</text>
<text class="hd" x="414.8" y="308.2" transform="matrix(1 0 0 1.05 0 -15.41)">Mediun Tree and Large Tree</text>
<text class="tag" x="23.6" y="310.5">( b )</text>
<text class="lg" x="316.3" y="569" transform="matrix(1 0 0 1.1 0 -56.9)">Attraction</text>
<text class="lg" x="402.1" y="569" transform="matrix(1 0 0 1.1 0 -56.9)">Non-interaction</text>
<text class="lg" x="498.9" y="569" transform="matrix(1 0 0 1.1 0 -56.9)">Repulsion</text>
<path d="M2.5 5 Q2.5 3.25 4.25 3.25 H545.95 Q547.7 3.25 547.7 5 V573.15 Q547.7 574.9 545.95 574.9 H4.25 Q2.5 574.9 2.5 573.15 Z" fill="none" stroke="#000" stroke-width="1.7"/>
<rect x="2.5" y="288.55" width="545.2" height="1.75" fill="#000"/>
</svg>
</body></html>
